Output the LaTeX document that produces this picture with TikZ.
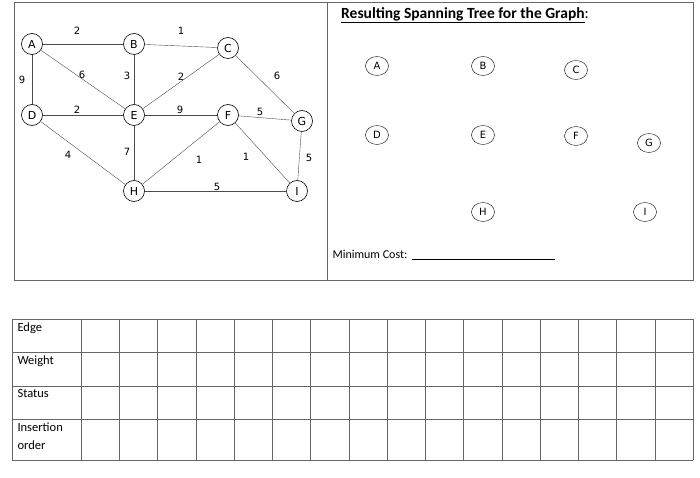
\documentclass[tikz,border=0pt]{standalone}
\usepackage{fontspec}
\setmainfont{Carlito}
\newfontfamily\graphfont{DejaVu Sans}
\usetikzlibrary{shapes.geometric}
\begin{document}
\begin{tikzpicture}[x=1pt,y=-1pt,
  vertex/.style={circle,draw,semithick,minimum size=21pt,inner sep=0,font=\graphfont\fontsize{11}{11}\selectfont},
  treevertex/.style={ellipse,draw,minimum width=23pt,minimum height=19pt,inner sep=0,font=\graphfont\fontsize{10}{10}\selectfont},
  weight/.style={font=\graphfont\fontsize{10}{10}\selectfont},
  edge/.style={draw=black!70},
  rowlabel/.style={anchor=north west,font=\fontsize{12.5}{18}\selectfont,align=left}
]
\useasboundingbox (0,0) rectangle (700,478);
% outer boxes
\draw[black!60] (14,2) rectangle (693,280);
\draw[black!60] (327,2) -- (327,280);

% graph
\node[vertex] (A) at (32,44) {A};
\node[vertex] (B) at (134,44) {B};
\node[vertex] (C) at (228,48) {C};
\node[vertex] (D) at (32,115) {D};
\node[vertex] (E) at (134,115) {E};
\node[vertex] (F) at (228,115) {F};
\node[vertex] (G) at (302,121) {G};
\node[vertex] (H) at (134,191) {H};
\node[vertex] (I) at (297,191) {I};

\foreach \u/\v in {A/B,B/C,A/D,A/E,B/E,C/E,C/G,D/E,E/F,F/G,D/H,E/H,F/H,F/I,G/I,H/I}
  \draw[edge] (\u) -- (\v);

\node[weight] at (77,31) {2};
\node[weight] at (181,31) {1};
\node[weight] at (22,80) {9};
\node[weight] at (82,75) {6};
\node[weight] at (127,76) {3};
\node[weight] at (181,77) {2};
\node[weight] at (277,76) {6};
\node[weight] at (77,110) {2};
\node[weight] at (180,110) {9};
\node[weight] at (260,112) {5};
\node[weight] at (68,155) {4};
\node[weight] at (127,152) {7};
\node[weight] at (199,160) {1};
\node[weight] at (246,157) {1};
\node[weight] at (309,158) {5};
\node[weight] at (217,187) {5};

% spanning tree side
\node[font=\fontsize{15.5}{16}\selectfont] (title) at (465,15)
  {\textbf{\underline{Resulting Spanning Tree for the Graph}}:};
\node[treevertex] (tA) at (377,66) {A};
\node[treevertex] (tB) at (483,66) {B};
\node[treevertex] (tC) at (576,70) {C};
\node[treevertex] (tD) at (377,135) {D};
\node[treevertex] (tE) at (483,135) {E};
\node[treevertex] (tF) at (576,136) {F};
\node[treevertex] (tG) at (649,143) {G};
\node[treevertex] (tH) at (483,212) {H};
\node[treevertex] (tI) at (645,212) {I};
\node[anchor=west,font=\fontsize{12}{13}\selectfont] (cost) at (329,254) {Minimum Cost:};
\draw (cost.east |- 0,259) ++(1,0) coordinate (c0) -- (555,259);

% table
\foreach \y in {319,352,386,419,460} \draw[black!60] (12,\y) -- (693,\y);
\draw[black!60] (12,319) -- (12,460);
\foreach \i in {0,...,16} \draw[black!60] ({81+38.25*\i},319) -- ({81+38.25*\i},460);
\node[rowlabel] (edge) at (14,319) {Edge};
\node[rowlabel] (wt) at (14,352) {Weight};
\node[rowlabel] (st) at (14,386) {Status};
\node[rowlabel] (ins) at (14,419) {Insertion\\order};
\end{tikzpicture}
\end{document}
